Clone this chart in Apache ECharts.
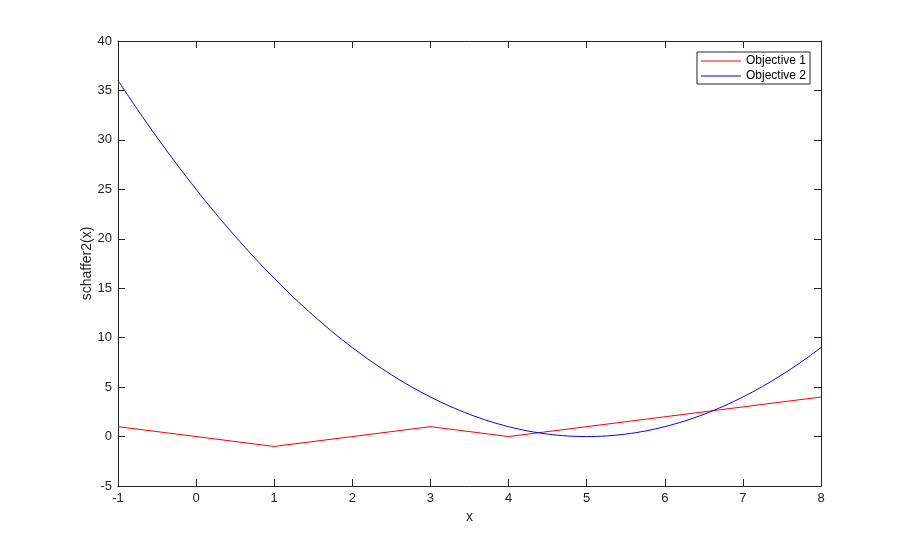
<!DOCTYPE html>
<html>
<head>
<meta charset="utf-8">
<script src="https://cdn.jsdelivr.net/npm/echarts@6/dist/echarts.min.js"></script>
<style>
html,body{margin:0;padding:0;background:#fff;}
#main{width:908px;height:546px;}
</style>
</head>
<body>
<div id="main"></div>
<script>
// objective 1 : corner points
var obj1X = [-1, 1, 3, 4, 8];
var obj1Y = [1, -1, 1, 0, 4];
// objective 2 : blue curve read every 0.25
var obj2X = [-1, -0.75, -0.5, -0.25, 0, 0.25, 0.5, 0.75, 1, 1.25, 1.5, 1.75, 2, 2.25, 2.5, 2.75, 3, 3.25, 3.5, 3.75,
	4, 4.25, 4.5, 4.75, 5, 5.25, 5.5, 5.75, 6, 6.25, 6.5, 6.75, 7, 7.25, 7.5, 7.75, 8];
var obj2Y = [36, 33.06, 30.25, 27.56, 25, 22.56, 20.25, 18.06, 16, 14.06, 12.25, 10.56, 9, 7.56, 6.25, 5.06, 4, 3.06, 2.25, 1.56,
	1, 0.56, 0.25, 0.06, 0, 0.06, 0.25, 0.56, 1, 1.56, 2.25, 3.06, 4, 5.06, 6.25, 7.56, 9];
var seriesNames = ['Objective 1', 'Objective 2'];

function pairs(xs, ys){
	var out = [];
	for(var i = 0; i < xs.length; i++){
		out.push([xs[i], ys[i]]);
	}
	return out;
}

var font = 'Liberation Sans, Arial, sans-serif';
var axisLine = {show: true, onZero: false, lineStyle: {color: '#262626', width: 1}};
var tick = {show: true, inside: true, length: 7, lineStyle: {color: '#262626'}};

var myChart = echarts.init(document.getElementById('main'));
var option = {
	animation: false,
	grid: {left: 118, right: 87, top: 41, bottom: 60, containLabel: false},
	legend: {
		data: seriesNames,
		orient: 'vertical',
		right: 98,
		top: 52,
		itemWidth: 40,
		itemHeight: 1,
		itemGap: 3,
		padding: [3, 4, 2, 4],
		borderColor: '#262626',
		borderWidth: 1,
		backgroundColor: '#fff',
		icon: 'rect',
		textStyle: {fontFamily: font, fontSize: 12, color: '#000'}
	},
	xAxis: [{
		type: 'value', min: -1, max: 8, interval: 1,
		name: 'x', nameLocation: 'middle', nameGap: 23,
		nameTextStyle: {fontFamily: font, fontSize: 14, color: '#262626'},
		axisLine: axisLine, axisTick: tick, splitLine: {show: false},
		axisLabel: {fontFamily: font, fontSize: 13, color: '#262626', margin: 6}
	}, {
		type: 'value', min: -1, max: 8, interval: 1, position: 'top',
		axisLine: axisLine, axisTick: tick, splitLine: {show: false},
		axisLabel: {show: false}
	}],
	yAxis: [{
		type: 'value', min: -5, max: 40, interval: 5,
		name: 'schaffer2(x)', nameLocation: 'middle', nameGap: 24, nameMoveOverlap: false,
		nameTextStyle: {fontFamily: font, fontSize: 14, color: '#262626'},
		axisLine: axisLine, axisTick: tick, splitLine: {show: false},
		axisLabel: {fontFamily: font, fontSize: 13, color: '#262626', margin: 6}
	}, {
		type: 'value', min: -5, max: 40, interval: 5, position: 'right',
		axisLine: axisLine, axisTick: tick, splitLine: {show: false},
		axisLabel: {show: false}
	}],
	series: [{
		name: seriesNames[0], type: 'line', showSymbol: false,
		data: pairs(obj1X, obj1Y),
		itemStyle: {color: '#ff0000'},
		lineStyle: {color: '#ff0000', width: 1}
	}, {
		name: seriesNames[1], type: 'line', showSymbol: false, smooth: 0.3,
		data: pairs(obj2X, obj2Y),
		itemStyle: {color: '#0000ff'},
		lineStyle: {color: '#0000ff', width: 1}
	}]
};
myChart.setOption(option);
</script>
</body>
</html>
